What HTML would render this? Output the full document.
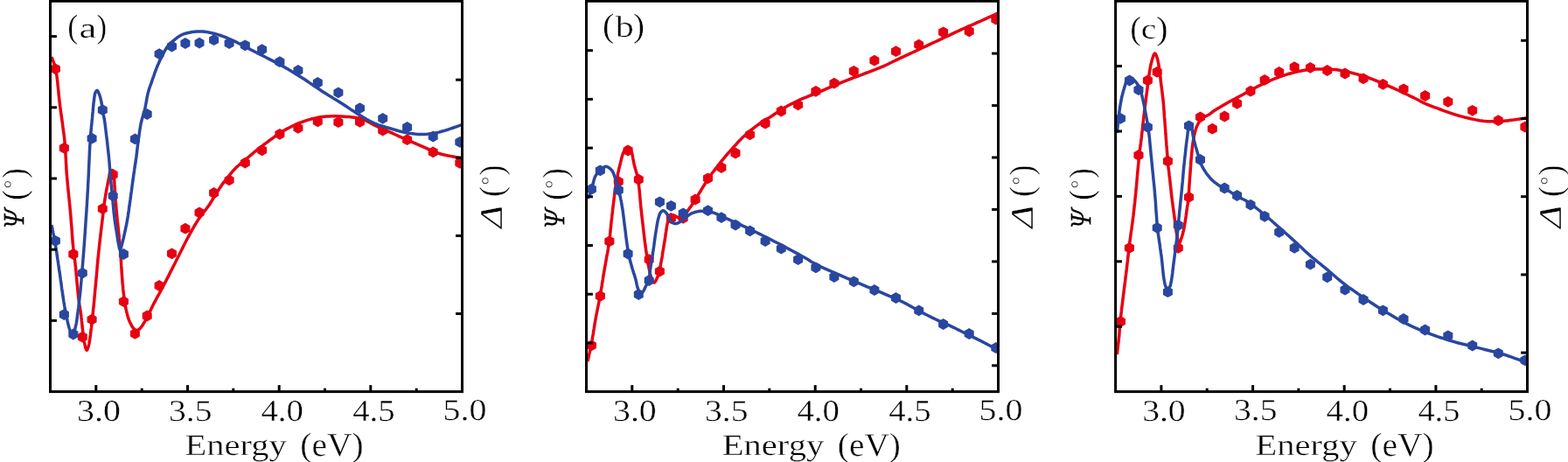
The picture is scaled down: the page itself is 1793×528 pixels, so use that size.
<!DOCTYPE html>
<html><head><meta charset="utf-8"><style>
html,body{margin:0;padding:0;background:#fff}
body{width:1793px;height:528px;overflow:hidden}
svg{display:block}

text{font-family:"Liberation Serif","DejaVu Serif",serif;fill:#000;stroke:#fff;text-rendering:geometricPrecision}

</style></head><body>
<svg width="1793" height="528" viewBox="0 0 1793 528">
<defs>
<clipPath id="ca"><rect x="57.5" y="1.3" width="471.0" height="446.3"/></clipPath>
<clipPath id="cb"><rect x="670.5" y="1.3" width="471.0" height="446.3"/></clipPath>
<clipPath id="cc"><rect x="1275.6" y="1.3" width="470.9" height="446.3"/></clipPath>
</defs>
<g clip-path="url(#ca)">
<path d="M59.0,65.0 59.6,66.7 60.2,68.3 60.8,69.9 61.4,71.5 62.0,73.2 62.5,74.9 63.1,76.9 63.6,79.0 64.4,83.1 65.1,87.7 65.7,92.7 66.2,98.1 66.8,103.6 67.3,109.2 67.9,114.7 68.5,120.0 69.2,125.2 69.9,130.5 70.7,135.8 71.4,141.1 72.1,146.4 72.8,151.6 73.5,156.8 74.0,162.0 74.4,166.8 74.8,171.5 75.0,176.2 75.3,180.9 75.5,185.6 75.8,190.3 76.0,195.1 76.4,200.0 76.9,205.6 77.4,211.4 78.0,217.2 78.6,223.2 79.2,229.1 79.8,234.9 80.3,240.6 80.8,246.0 81.2,250.5 81.5,255.0 81.9,259.4 82.2,263.7 82.5,267.9 82.8,272.0 83.1,276.1 83.5,280.0 83.8,283.2 84.2,286.2 84.5,289.1 84.9,291.9 85.2,294.8 85.6,297.7 85.9,300.8 86.3,304.0 86.8,308.5 87.2,313.4 87.7,318.5 88.1,323.7 88.6,328.9 89.1,333.8 89.5,338.4 90.0,342.4 90.3,344.7 90.6,346.8 90.9,348.7 91.2,350.6 91.5,352.4 91.8,354.2 92.1,356.0 92.4,358.0 92.7,360.2 92.9,362.4 93.2,364.7 93.4,367.0 93.7,369.3 93.9,371.5 94.1,373.8 94.4,376.0 94.6,378.1 94.9,380.2 95.1,382.3 95.4,384.4 95.6,386.4 95.9,388.4 96.2,390.3 96.6,392.0 96.9,393.3 97.2,394.7 97.5,396.0 97.8,397.4 98.2,398.5 98.5,399.4 98.9,400.1 99.2,400.3 99.5,400.1 99.8,399.6 100.1,398.9 100.5,398.0 100.8,397.0 101.1,395.9 101.4,394.9 101.6,394.0 101.8,393.2 102.0,392.3 102.1,391.5 102.3,390.6 102.4,389.7 102.5,388.9 102.7,387.9 102.8,387.0 103.0,385.8 103.1,384.7 103.3,383.4 103.5,382.2 103.6,380.9 103.8,379.6 103.9,378.3 104.1,377.0 104.3,375.6 104.5,374.2 104.6,372.8 104.8,371.3 105.0,369.8 105.2,368.2 105.4,366.5 105.6,364.5 106.1,359.9 106.6,354.3 107.3,348.0 107.9,341.4 108.5,334.6 109.1,328.1 109.7,322.0 110.2,316.7 110.5,313.6 110.7,310.9 110.9,308.3 111.1,305.8 111.3,303.3 111.6,300.8 111.8,298.0 112.1,295.0 112.6,290.1 113.2,284.6 113.8,278.7 114.5,272.7 115.2,266.6 115.9,260.7 116.6,255.1 117.2,250.0 117.6,246.5 118.0,243.2 118.4,239.9 118.8,236.8 119.2,233.8 119.5,230.8 120.0,227.9 120.4,225.0 120.8,222.4 121.3,219.9 121.7,217.4 122.2,214.9 122.7,212.5 123.1,210.2 123.6,208.0 124.0,206.0 124.3,204.7 124.5,203.4 124.8,202.1 125.1,200.9 125.3,199.8 125.6,198.8 125.9,197.8 126.2,197.0 126.4,196.6 126.6,196.1 126.8,195.7 127.0,195.3 127.2,195.0 127.4,194.7 127.6,194.6 127.8,194.5 128.0,194.5 128.3,194.7 128.5,194.9 128.7,195.3 129.0,195.6 129.2,196.1 129.4,196.5 129.6,197.0 130.0,198.4 130.3,200.2 130.5,202.4 130.6,204.8 130.8,207.3 130.9,209.9 131.0,212.5 131.2,215.0 131.4,217.9 131.7,221.0 131.9,224.1 132.1,227.2 132.3,230.4 132.6,233.7 132.8,236.8 133.1,240.0 133.4,243.1 133.7,246.3 134.0,249.5 134.3,252.7 134.7,255.8 135.0,258.9 135.3,262.0 135.6,265.0 135.9,267.6 136.1,270.1 136.3,272.5 136.6,274.9 136.8,277.3 137.0,279.8 137.3,282.3 137.5,285.0 137.8,288.5 138.0,292.2 138.3,296.0 138.5,300.0 138.7,303.9 139.0,307.7 139.2,311.5 139.5,315.0 139.7,317.8 139.9,320.6 140.1,323.2 140.4,325.9 140.6,328.4 140.8,331.0 141.1,333.5 141.4,336.0 141.7,338.3 142.0,340.5 142.3,342.8 142.6,345.0 142.9,347.1 143.3,349.3 143.7,351.3 144.1,353.4 144.5,355.2 144.9,357.0 145.4,358.8 145.8,360.5 146.3,362.2 146.8,363.9 147.4,365.5 148.0,367.0 148.6,368.3 149.2,369.6 149.9,370.9 150.5,372.2 151.2,373.3 151.9,374.4 152.6,375.3 153.3,376.0 153.7,376.3 154.0,376.6 154.4,376.9 154.8,377.1 155.2,377.3 155.5,377.4 155.9,377.5 156.3,377.5 156.7,377.5 157.2,377.3 157.7,377.2 158.1,376.9 158.6,376.6 159.1,376.3 159.5,375.9 160.0,375.5 160.8,374.7 161.5,373.8 162.3,372.7 163.1,371.6 163.8,370.3 164.6,369.0 165.4,367.7 166.2,366.3 167.3,364.3 168.4,362.2 169.6,359.9 170.7,357.5 171.9,355.1 173.1,352.7 174.2,350.3 175.4,348.0 176.5,345.8 177.7,343.6 178.9,341.4 180.1,339.2 181.2,337.1 182.4,335.0 183.5,333.0 184.5,331.0 185.3,329.5 186.0,328.1 186.7,326.8 187.4,325.5 188.1,324.2 188.8,322.9 189.6,321.4 190.4,319.8 191.8,317.1 193.3,314.1 194.9,310.9 196.6,307.6 198.3,304.2 200.1,300.8 201.8,297.3 203.5,294.0 205.2,290.5 207.0,287.0 208.8,283.4 210.6,279.8 212.4,276.3 214.2,272.8 215.9,269.6 217.6,266.5 218.8,264.3 220.0,262.2 221.2,260.2 222.3,258.2 223.5,256.3 224.6,254.4 225.8,252.5 227.1,250.6 228.5,248.6 229.9,246.6 231.4,244.6 232.9,242.6 234.4,240.7 235.9,238.8 237.2,237.0 238.5,235.2 239.4,233.9 240.2,232.7 240.9,231.5 241.7,230.4 242.4,229.2 243.1,228.0 243.9,226.8 244.7,225.5 245.8,223.8 247.0,221.9 248.2,219.9 249.5,217.8 250.7,215.9 251.9,214.0 253.1,212.2 254.1,210.7 254.7,209.9 255.3,209.1 255.8,208.4 256.3,207.8 256.8,207.2 257.4,206.5 258.0,205.8 258.6,205.0 259.6,203.7 260.7,202.3 261.9,200.9 263.1,199.3 264.3,197.8 265.7,196.2 267.0,194.7 268.4,193.2 270.0,191.6 271.7,190.0 273.5,188.5 275.3,186.9 277.1,185.4 279.0,183.8 280.8,182.3 282.6,180.8 284.4,179.3 286.1,177.8 287.9,176.3 289.7,174.8 291.4,173.3 293.2,171.9 295.0,170.4 296.8,169.0 298.6,167.6 300.4,166.3 302.2,164.9 304.0,163.6 305.8,162.3 307.5,161.0 309.3,159.7 311.0,158.5 312.5,157.4 313.9,156.4 315.3,155.3 316.6,154.3 318.0,153.3 319.5,152.3 321.0,151.3 322.7,150.3 325.1,148.9 327.8,147.4 330.6,146.0 333.5,144.5 336.5,143.1 339.5,141.7 342.6,140.4 345.5,139.3 348.3,138.3 351.1,137.4 353.9,136.6 356.8,135.8 359.6,135.2 362.5,134.6 365.3,134.0 368.2,133.6 371.0,133.3 373.9,133.0 376.7,132.9 379.5,132.8 382.4,132.7 385.2,132.8 388.1,132.9 390.9,133.0 393.8,133.2 396.7,133.4 399.7,133.6 402.6,133.9 405.5,134.3 408.3,134.7 411.0,135.3 413.6,136.0 415.6,136.7 417.5,137.5 419.4,138.4 421.1,139.3 422.9,140.3 424.7,141.3 426.5,142.3 428.4,143.2 430.6,144.2 432.8,145.2 435.1,146.3 437.4,147.3 439.7,148.3 442.1,149.3 444.4,150.4 446.7,151.4 449.0,152.4 451.3,153.5 453.6,154.5 455.9,155.6 458.2,156.6 460.5,157.6 462.8,158.7 465.1,159.7 467.4,160.7 469.7,161.7 472.0,162.7 474.2,163.7 476.5,164.7 478.8,165.6 481.1,166.6 483.4,167.6 485.7,168.6 487.9,169.6 490.1,170.6 492.3,171.6 494.6,172.6 496.9,173.6 499.3,174.5 501.8,175.3 504.9,176.2 508.1,177.0 511.4,177.7 514.8,178.4 518.2,179.0 521.7,179.7 525.1,180.3 528.5,181.0" fill="none" stroke="#e60012" stroke-width="3.5" stroke-linejoin="round" stroke-linecap="butt"/>
<g fill="#e60012">
<polygon points="63.3,72.4 57.8,75.6 57.8,82.0 63.3,85.2 68.9,82.0 68.9,75.6"/>
<polygon points="73.4,162.8 67.8,166.0 67.8,172.4 73.4,175.6 78.9,172.4 78.9,166.0"/>
<polygon points="83.8,284.1 78.3,287.3 78.3,293.7 83.8,296.9 89.4,293.7 89.4,287.3"/>
<polygon points="94.3,378.8 88.8,382.0 88.8,388.4 94.3,391.6 99.8,388.4 99.8,382.0"/>
<polygon points="105.1,358.7 99.6,361.9 99.6,368.3 105.1,371.5 110.6,368.3 110.6,361.9"/>
<polygon points="117.3,232.2 111.8,235.4 111.8,241.8 117.3,245.0 122.8,241.8 122.8,235.4"/>
<polygon points="129.2,193.1 123.7,196.3 123.7,202.7 129.2,205.9 134.7,202.7 134.7,196.3"/>
<polygon points="141.4,338.2 135.9,341.4 135.9,347.8 141.4,351.0 146.9,347.8 146.9,341.4"/>
<polygon points="154.4,375.0 148.9,378.2 148.9,384.6 154.4,387.8 159.9,384.6 159.9,378.2"/>
<polygon points="168.2,354.6 162.7,357.8 162.7,364.2 168.2,367.4 173.7,364.2 173.7,357.8"/>
<polygon points="182.1,320.1 176.6,323.3 176.6,329.7 182.1,332.9 187.6,329.7 187.6,323.3"/>
<polygon points="196.5,283.4 191.0,286.6 191.0,293.0 196.5,296.2 202.0,293.0 202.0,286.6"/>
<polygon points="211.9,254.8 206.4,258.0 206.4,264.4 211.9,267.6 217.4,264.4 217.4,258.0"/>
<polygon points="228.0,236.6 222.5,239.8 222.5,246.2 228.0,249.4 233.5,246.2 233.5,239.8"/>
<polygon points="244.6,214.1 239.1,217.3 239.1,223.7 244.6,226.9 250.1,223.7 250.1,217.3"/>
<polygon points="262.1,199.5 256.6,202.7 256.6,209.1 262.1,212.3 267.6,209.1 267.6,202.7"/>
<polygon points="280.3,179.7 274.8,182.9 274.8,189.3 280.3,192.5 285.8,189.3 285.8,182.9"/>
<polygon points="299.6,165.4 294.1,168.6 294.1,175.0 299.6,178.2 305.1,175.0 305.1,168.6"/>
<polygon points="319.9,146.9 314.4,150.1 314.4,156.5 319.9,159.7 325.4,156.5 325.4,150.1"/>
<polygon points="340.9,140.0 335.4,143.2 335.4,149.6 340.9,152.8 346.4,149.6 346.4,143.2"/>
<polygon points="363.3,132.5 357.8,135.7 357.8,142.1 363.3,145.3 368.8,142.1 368.8,135.7"/>
<polygon points="386.9,133.3 381.4,136.5 381.4,142.9 386.9,146.1 392.4,142.9 392.4,136.5"/>
<polygon points="411.5,132.9 406.0,136.1 406.0,142.5 411.5,145.7 417.0,142.5 417.0,136.1"/>
<polygon points="437.7,142.7 432.2,145.9 432.2,152.3 437.7,155.5 443.2,152.3 443.2,145.9"/>
<polygon points="465.6,153.3 460.1,156.5 460.1,162.9 465.6,166.1 471.1,162.9 471.1,156.5"/>
<polygon points="495.2,167.4 489.7,170.6 489.7,177.0 495.2,180.2 500.7,177.0 500.7,170.6"/>
<polygon points="525.8,179.9 520.3,183.1 520.3,189.5 525.8,192.7 531.3,189.5 531.3,183.1"/>
</g>
<path d="M59.0,257.0 59.2,258.1 59.4,259.2 59.7,260.3 59.9,261.4 60.1,262.5 60.3,263.6 60.6,264.8 60.8,266.0 61.1,267.5 61.4,269.0 61.7,270.6 62.0,272.2 62.4,273.9 62.7,275.5 63.0,277.3 63.3,279.0 63.6,281.1 64.0,283.3 64.3,285.5 64.7,287.8 65.0,290.1 65.3,292.4 65.7,294.7 66.0,297.0 66.4,299.4 66.7,301.8 67.1,304.2 67.4,306.6 67.8,309.1 68.2,311.6 68.5,314.1 68.9,316.7 69.3,319.7 69.8,322.9 70.2,326.1 70.6,329.3 71.1,332.6 71.6,335.8 72.0,338.9 72.5,342.0 72.9,344.7 73.4,347.4 73.8,350.1 74.3,352.7 74.8,355.3 75.2,357.8 75.7,360.3 76.2,362.6 76.6,364.4 77.0,366.3 77.4,368.0 77.7,369.7 78.2,371.4 78.6,373.0 79.0,374.5 79.5,376.0 79.9,377.2 80.3,378.4 80.8,379.7 81.2,380.9 81.7,381.9 82.1,382.8 82.6,383.3 83.0,383.5 83.5,383.2 83.9,382.4 84.4,381.2 84.9,379.7 85.3,378.0 85.7,376.3 86.1,374.6 86.5,373.0 86.9,371.2 87.3,369.3 87.6,367.4 87.9,365.4 88.2,363.3 88.4,361.2 88.7,359.1 89.0,357.0 89.3,354.5 89.7,352.0 90.0,349.4 90.3,346.7 90.6,344.1 90.9,341.4 91.2,338.7 91.5,336.0 91.8,333.2 92.1,330.3 92.3,327.5 92.6,324.6 92.9,321.7 93.1,318.8 93.4,315.9 93.6,313.0 93.8,310.1 94.1,307.3 94.3,304.5 94.6,301.6 94.8,298.8 95.0,295.9 95.3,293.0 95.5,290.0 95.8,286.6 96.0,283.2 96.3,279.8 96.5,276.3 96.8,272.8 97.0,269.2 97.3,265.6 97.5,262.0 97.8,258.1 98.0,254.1 98.3,250.0 98.6,245.9 98.9,241.8 99.1,237.8 99.4,233.8 99.6,230.0 99.8,226.8 100.0,223.7 100.1,220.8 100.3,217.8 100.5,214.8 100.6,211.7 100.8,208.5 101.0,205.0 101.3,199.6 101.5,193.7 101.8,187.3 102.1,180.8 102.4,174.3 102.7,168.1 103.1,162.2 103.4,157.0 103.6,153.8 103.9,150.9 104.2,148.1 104.4,145.4 104.7,142.8 105.0,140.2 105.2,137.6 105.5,135.0 105.7,132.5 105.9,130.0 106.2,127.5 106.4,125.0 106.6,122.6 106.8,120.3 107.0,118.1 107.3,116.0 107.5,114.5 107.7,113.1 107.8,111.7 108.0,110.4 108.2,109.1 108.4,107.9 108.7,106.9 109.0,106.0 109.2,105.5 109.4,105.1 109.7,104.6 109.9,104.2 110.2,103.9 110.4,103.6 110.7,103.5 110.9,103.4 111.2,103.5 111.4,103.7 111.7,104.0 112.0,104.4 112.2,104.9 112.5,105.4 112.8,106.0 113.0,106.5 113.4,107.4 113.8,108.4 114.1,109.5 114.5,110.7 114.8,111.9 115.1,113.1 115.4,114.4 115.7,115.6 116.0,117.0 116.2,118.4 116.5,119.8 116.7,121.3 116.9,122.7 117.1,124.2 117.3,125.6 117.5,127.0 117.7,128.2 118.0,129.4 118.2,130.5 118.4,131.6 118.7,132.8 118.9,134.0 119.1,135.4 119.4,137.0 120.0,140.9 120.6,145.6 121.2,150.9 121.9,156.5 122.6,162.3 123.2,168.0 123.8,173.3 124.3,178.0 124.6,181.1 124.9,183.9 125.1,186.7 125.3,189.3 125.5,191.9 125.7,194.6 126.0,197.2 126.2,200.0 126.5,203.0 126.8,206.1 127.0,209.3 127.3,212.4 127.6,215.6 127.9,218.7 128.2,221.9 128.5,225.0 128.8,228.2 129.1,231.4 129.4,234.6 129.7,237.8 130.0,241.0 130.3,244.1 130.7,247.1 131.0,250.0 131.3,252.3 131.6,254.6 132.0,256.7 132.3,258.9 132.6,261.0 133.0,263.0 133.3,265.0 133.6,267.0 133.9,268.6 134.1,270.2 134.3,271.8 134.6,273.4 134.8,274.9 135.1,276.3 135.3,277.7 135.6,279.0 135.8,280.0 136.0,281.1 136.2,282.2 136.4,283.2 136.6,284.1 136.8,284.8 137.1,285.3 137.3,285.5 137.5,285.4 137.7,285.0 138.0,284.4 138.2,283.6 138.5,282.7 138.7,281.8 139.0,280.9 139.2,280.0 139.6,278.7 140.0,277.2 140.4,275.6 140.8,274.0 141.2,272.3 141.6,270.5 142.0,268.8 142.4,267.0 142.8,265.0 143.3,263.0 143.7,260.9 144.1,258.9 144.6,256.7 145.0,254.5 145.4,252.3 145.8,250.0 146.3,247.1 146.7,244.1 147.2,241.0 147.6,237.8 148.1,234.6 148.5,231.4 149.0,228.2 149.4,225.0 149.8,221.9 150.3,218.7 150.7,215.5 151.1,212.3 151.5,209.2 152.0,206.1 152.4,203.0 152.8,200.0 153.2,197.4 153.6,194.8 153.9,192.3 154.3,189.9 154.7,187.4 155.1,184.9 155.4,182.5 155.8,180.0 156.1,177.5 156.4,175.0 156.7,172.5 157.0,170.0 157.3,167.5 157.6,165.0 158.0,162.5 158.3,160.0 158.6,157.5 159.0,154.9 159.3,152.4 159.7,149.8 160.1,147.3 160.5,144.8 160.9,142.4 161.4,140.0 161.9,138.0 162.4,136.1 162.9,134.3 163.5,132.5 164.0,130.7 164.6,128.8 165.1,127.0 165.6,125.0 166.1,122.7 166.6,120.2 167.0,117.7 167.5,115.2 167.9,112.7 168.4,110.2 168.9,107.8 169.4,105.6 169.9,103.9 170.4,102.2 170.9,100.6 171.5,99.0 172.0,97.5 172.6,95.9 173.2,94.4 173.7,92.8 174.2,91.2 174.8,89.7 175.3,88.1 175.9,86.5 176.4,84.9 176.9,83.4 177.5,81.9 178.0,80.5 178.4,79.4 178.9,78.2 179.3,77.2 179.7,76.1 180.2,75.1 180.6,74.0 181.1,73.0 181.5,72.0 181.9,71.1 182.3,70.2 182.7,69.3 183.1,68.5 183.6,67.6 184.0,66.7 184.5,65.8 185.0,64.8 185.7,63.4 186.5,61.9 187.3,60.3 188.1,58.7 189.0,57.1 189.9,55.6 190.8,54.1 191.8,52.8 192.7,51.7 193.6,50.7 194.5,49.8 195.5,48.9 196.4,48.0 197.4,47.2 198.5,46.3 199.5,45.5 200.6,44.7 201.6,43.8 202.7,43.0 203.8,42.2 204.9,41.4 206.1,40.7 207.4,40.0 208.8,39.4 210.8,38.7 212.9,38.0 215.2,37.5 217.6,37.0 220.1,36.6 222.5,36.3 224.9,36.1 227.3,36.0 229.6,36.0 231.9,36.1 234.2,36.3 236.4,36.6 238.7,37.0 241.0,37.5 243.2,38.0 245.5,38.5 247.8,39.1 250.0,39.8 252.3,40.5 254.5,41.3 256.7,42.1 259.0,43.0 261.3,44.0 263.6,45.0 266.4,46.3 269.3,47.7 272.3,49.2 275.2,50.7 278.2,52.3 281.1,53.8 283.8,55.3 286.4,56.6 288.2,57.5 290.0,58.4 291.6,59.2 293.2,60.0 294.8,60.9 296.4,61.7 298.2,62.6 300.0,63.5 302.6,64.8 305.3,66.2 308.1,67.6 311.0,69.1 314.0,70.6 316.9,72.2 319.8,73.7 322.7,75.3 325.6,76.9 328.4,78.6 331.3,80.3 334.1,82.0 337.0,83.7 339.8,85.4 342.7,87.2 345.5,89.0 348.4,90.8 351.2,92.7 354.0,94.6 356.9,96.6 359.7,98.5 362.5,100.4 365.4,102.3 368.2,104.2 371.0,106.0 373.9,107.8 376.7,109.6 379.6,111.3 382.4,113.1 385.3,114.8 388.1,116.5 390.9,118.3 393.6,120.0 396.3,121.8 399.0,123.6 401.6,125.4 404.3,127.1 406.9,128.8 409.5,130.5 412.0,132.0 414.1,133.3 416.2,134.5 418.2,135.7 420.2,136.9 422.2,138.0 424.2,139.0 426.3,140.0 428.4,141.0 430.6,141.9 432.9,142.8 435.2,143.5 437.6,144.3 440.0,145.0 442.3,145.7 444.7,146.3 447.0,147.0 449.3,147.7 451.5,148.3 453.7,149.0 456.0,149.7 458.2,150.3 460.5,150.8 462.7,151.4 465.0,151.8 467.3,152.2 469.6,152.5 471.9,152.8 474.2,153.1 476.5,153.3 478.8,153.4 481.1,153.5 483.4,153.5 485.7,153.4 487.9,153.3 490.2,153.1 492.4,152.8 494.7,152.5 497.0,152.1 499.4,151.6 501.8,151.1 504.9,150.3 508.2,149.4 511.5,148.3 514.9,147.2 518.3,146.0 521.7,144.8 525.1,143.6 528.5,142.5" fill="none" stroke="#2a479f" stroke-width="3.5" stroke-linejoin="round" stroke-linecap="butt"/>
<g fill="#2a479f">
<polygon points="63.3,268.9 57.8,272.1 57.8,278.5 63.3,281.7 68.9,278.5 68.9,272.1"/>
<polygon points="73.4,353.1 67.8,356.3 67.8,362.7 73.4,365.9 78.9,362.7 78.9,356.3"/>
<polygon points="83.8,375.6 78.3,378.8 78.3,385.2 83.8,388.4 89.4,385.2 89.4,378.8"/>
<polygon points="94.3,305.7 88.8,308.9 88.8,315.3 94.3,318.5 99.8,315.3 99.8,308.9"/>
<polygon points="105.1,151.8 99.6,155.0 99.6,161.4 105.1,164.6 110.6,161.4 110.6,155.0"/>
<polygon points="117.3,119.3 111.8,122.5 111.8,128.9 117.3,132.1 122.8,128.9 122.8,122.5"/>
<polygon points="129.2,217.5 123.7,220.7 123.7,227.1 129.2,230.3 134.7,227.1 134.7,220.7"/>
<polygon points="141.4,284.1 135.9,287.3 135.9,293.7 141.4,296.9 146.9,293.7 146.9,287.3"/>
<polygon points="154.4,152.5 148.9,155.7 148.9,162.1 154.4,165.3 159.9,162.1 159.9,155.7"/>
<polygon points="168.2,124.1 162.7,127.3 162.7,133.7 168.2,136.9 173.7,133.7 173.7,127.3"/>
<polygon points="182.1,55.2 176.6,58.4 176.6,64.8 182.1,68.0 187.6,64.8 187.6,58.4"/>
<polygon points="196.5,46.6 191.0,49.8 191.0,56.2 196.5,59.4 202.0,56.2 202.0,49.8"/>
<polygon points="211.9,43.1 206.4,46.3 206.4,52.7 211.9,55.9 217.4,52.7 217.4,46.3"/>
<polygon points="228.0,42.7 222.5,45.9 222.5,52.3 228.0,55.5 233.5,52.3 233.5,45.9"/>
<polygon points="244.6,39.3 239.1,42.5 239.1,48.9 244.6,52.1 250.1,48.9 250.1,42.5"/>
<polygon points="262.1,43.1 256.6,46.3 256.6,52.7 262.1,55.9 267.6,52.7 267.6,46.3"/>
<polygon points="280.3,45.4 274.8,48.6 274.8,55.0 280.3,58.2 285.8,55.0 285.8,48.6"/>
<polygon points="299.6,50.2 294.1,53.4 294.1,59.8 299.6,63.0 305.1,59.8 305.1,53.4"/>
<polygon points="319.9,64.3 314.4,67.5 314.4,73.9 319.9,77.1 325.4,73.9 325.4,67.5"/>
<polygon points="340.9,74.1 335.4,77.3 335.4,83.7 340.9,86.9 346.4,83.7 346.4,77.3"/>
<polygon points="363.3,88.1 357.8,91.3 357.8,97.7 363.3,100.9 368.8,97.7 368.8,91.3"/>
<polygon points="386.9,99.5 381.4,102.7 381.4,109.1 386.9,112.3 392.4,109.1 392.4,102.7"/>
<polygon points="411.5,117.2 406.0,120.4 406.0,126.8 411.5,130.0 417.0,126.8 417.0,120.4"/>
<polygon points="437.7,129.0 432.2,132.2 432.2,138.6 437.7,141.8 443.2,138.6 443.2,132.2"/>
<polygon points="465.6,139.1 460.1,142.3 460.1,148.7 465.6,151.9 471.1,148.7 471.1,142.3"/>
<polygon points="495.2,149.6 489.7,152.8 489.7,159.2 495.2,162.4 500.7,159.2 500.7,152.8"/>
<polygon points="525.8,156.0 520.3,159.2 520.3,165.6 525.8,168.8 531.3,165.6 531.3,159.2"/>
</g>
</g>
<g stroke="#000" stroke-width="3.0" fill="none">
<rect x="57.5" y="1.3" width="471.0" height="446.3"/>
<line x1="109.8" y1="447.6" x2="109.8" y2="440.1"/>
<line x1="162.2" y1="447.6" x2="162.2" y2="443.7"/>
<line x1="214.5" y1="447.6" x2="214.5" y2="440.1"/>
<line x1="266.8" y1="447.6" x2="266.8" y2="443.7"/>
<line x1="319.2" y1="447.6" x2="319.2" y2="440.1"/>
<line x1="371.5" y1="447.6" x2="371.5" y2="443.7"/>
<line x1="423.8" y1="447.6" x2="423.8" y2="440.1"/>
<line x1="476.2" y1="447.6" x2="476.2" y2="443.7"/>
<line x1="57.5" y1="366.4" x2="64.9" y2="366.4"/>
<line x1="57.5" y1="285.2" x2="64.9" y2="285.2"/>
<line x1="57.5" y1="204.0" x2="64.9" y2="204.0"/>
<line x1="57.5" y1="122.8" x2="64.9" y2="122.8"/>
<line x1="57.5" y1="41.6" x2="64.9" y2="41.6"/>
<line x1="528.5" y1="358.5" x2="521.1" y2="358.5"/>
<line x1="528.5" y1="269.4" x2="521.1" y2="269.4"/>
<line x1="528.5" y1="180.3" x2="521.1" y2="180.3"/>
<line x1="528.5" y1="91.2" x2="521.1" y2="91.2"/>
</g>
<g clip-path="url(#cb)">
<path d="M672.0,413.0 672.6,410.4 673.1,407.8 673.7,405.2 674.3,402.7 674.8,400.1 675.4,397.4 676.0,394.8 676.5,392.0 677.1,388.8 677.6,385.5 678.2,382.1 678.7,378.7 679.3,375.3 679.8,371.9 680.4,368.4 681.0,365.0 681.6,361.5 682.3,358.0 683.0,354.5 683.7,351.0 684.4,347.5 685.1,344.0 685.8,340.5 686.4,337.0 687.0,333.5 687.6,330.0 688.2,326.6 688.7,323.1 689.3,319.6 689.8,316.1 690.4,312.6 691.0,309.0 691.7,305.1 692.4,301.2 693.1,297.2 693.8,293.1 694.6,289.1 695.3,285.1 695.9,281.0 696.5,277.0 697.0,273.0 697.5,269.0 697.9,265.0 698.3,261.0 698.7,257.0 699.1,253.0 699.6,249.0 700.0,245.0 700.5,241.1 700.9,237.0 701.4,233.0 701.9,228.9 702.4,225.0 702.8,221.2 703.3,217.6 703.8,214.3 704.1,212.1 704.5,210.1 704.8,208.1 705.1,206.2 705.5,204.4 705.8,202.6 706.1,200.8 706.5,199.0 706.8,197.4 707.2,195.9 707.5,194.4 707.8,192.9 708.2,191.5 708.5,190.0 708.9,188.5 709.3,187.0 709.7,185.4 710.1,183.6 710.5,181.9 710.9,180.2 711.4,178.5 711.9,176.9 712.4,175.4 713.0,174.0 713.5,173.0 714.0,172.0 714.6,171.0 715.2,170.1 715.8,169.3 716.4,168.6 717.0,168.2 717.6,168.0 718.1,168.1 718.6,168.3 719.1,168.7 719.6,169.2 720.1,169.9 720.6,170.5 721.1,171.3 721.5,172.0 722.1,173.3 722.6,174.9 723.0,176.7 723.4,178.6 723.7,180.6 724.1,182.7 724.5,184.7 724.9,186.7 725.4,188.9 726.0,191.0 726.6,193.2 727.2,195.4 727.9,197.7 728.4,200.0 729.0,202.5 729.5,205.1 730.1,208.9 730.6,212.9 731.1,217.1 731.5,221.5 731.9,226.1 732.3,230.7 732.7,235.3 733.2,240.0 733.8,245.6 734.5,251.5 735.2,257.6 735.9,263.7 736.6,269.8 737.3,275.6 738.0,281.0 738.7,285.9 739.1,288.8 739.5,291.6 739.9,294.2 740.3,296.7 740.7,299.2 741.1,301.5 741.5,303.8 742.0,306.0 742.4,307.8 742.8,309.6 743.1,311.4 743.5,313.2 743.9,314.8 744.4,316.4 744.8,317.8 745.3,319.0 745.6,319.7 745.9,320.4 746.3,321.1 746.6,321.7 747.0,322.2 747.3,322.6 747.7,322.9 748.0,323.0 748.3,322.9 748.7,322.6 749.1,322.2 749.4,321.7 749.8,321.0 750.1,320.4 750.5,319.7 750.8,319.0 751.3,317.9 751.7,316.8 752.2,315.6 752.6,314.2 753.0,312.8 753.5,311.3 753.9,309.7 754.3,308.0 755.0,304.8 755.7,301.2 756.4,297.2 757.2,293.1 757.8,288.8 758.5,284.6 759.2,280.5 759.8,276.7 760.3,273.6 760.8,270.5 761.2,267.3 761.7,264.3 762.1,261.4 762.5,258.7 763.0,256.2 763.5,254.0 763.8,252.9 764.0,251.8 764.3,250.8 764.5,249.8 764.8,249.0 765.1,248.2 765.5,247.5 766.0,247.0 766.4,246.7 766.9,246.4 767.4,246.2 767.9,246.1 768.4,246.0 768.9,246.0 769.5,246.0 770.0,246.0 770.6,246.1 771.2,246.4 771.9,246.7 772.5,247.0 773.1,247.4 773.8,247.8 774.4,248.2 775.0,248.5 775.5,248.8 776.0,249.1 776.6,249.4 777.1,249.6 777.6,249.9 778.0,250.1 778.5,250.2 779.0,250.3 779.4,250.3 779.8,250.2 780.2,250.1 780.6,250.0 780.9,249.8 781.3,249.6 781.6,249.3 782.0,249.0 782.5,248.4 783.0,247.6 783.5,246.7 784.0,245.7 784.4,244.6 784.9,243.5 785.4,242.5 786.0,241.5 786.7,240.5 787.4,239.4 788.1,238.4 788.9,237.3 789.7,236.3 790.5,235.2 791.2,234.1 792.0,233.0 792.8,231.8 793.6,230.6 794.3,229.3 795.1,228.1 795.9,226.8 796.7,225.5 797.5,224.1 798.4,222.7 799.6,220.7 801.0,218.5 802.4,216.2 803.8,213.8 805.3,211.5 806.7,209.2 808.1,207.0 809.4,205.0 810.3,203.6 811.2,202.3 812.0,201.1 812.9,199.9 813.7,198.8 814.6,197.5 815.6,196.2 816.7,194.8 818.6,192.4 820.7,189.7 822.9,186.9 825.3,183.9 827.8,180.9 830.2,177.9 832.7,175.0 835.1,172.3 837.3,169.8 839.6,167.3 841.8,164.8 844.1,162.3 846.4,160.0 848.7,157.6 851.0,155.4 853.4,153.2 855.7,151.2 858.1,149.2 860.5,147.3 863.0,145.4 865.3,143.6 867.7,142.0 869.8,140.5 871.8,139.1 872.9,138.3 874.0,137.7 874.9,137.1 875.9,136.6 876.8,136.1 877.8,135.5 878.8,134.9 880.0,134.2 882.0,133.0 884.1,131.5 886.3,130.0 888.7,128.4 891.1,126.8 893.6,125.2 896.0,123.7 898.4,122.3 900.7,121.0 902.9,119.8 905.2,118.6 907.5,117.5 909.8,116.4 912.1,115.3 914.4,114.2 916.7,113.2 919.0,112.2 921.3,111.3 923.6,110.3 925.9,109.4 928.2,108.5 930.5,107.7 932.8,106.7 935.1,105.8 937.4,104.8 939.7,103.8 942.0,102.8 944.2,101.8 946.5,100.8 948.8,99.8 951.1,98.8 953.4,97.8 955.7,96.9 958.0,95.9 960.3,95.0 962.6,94.1 964.9,93.2 967.2,92.3 969.5,91.4 971.8,90.5 974.1,89.6 976.4,88.7 978.7,87.9 981.0,87.0 983.3,86.1 985.6,85.3 987.9,84.4 990.2,83.5 992.7,82.6 995.3,81.6 997.9,80.6 1000.5,79.6 1003.0,78.6 1005.5,77.7 1007.8,76.7 1010.0,75.8 1011.4,75.2 1012.8,74.5 1014.0,74.0 1015.2,73.4 1016.4,72.8 1017.6,72.1 1019.0,71.5 1020.4,70.8 1022.6,69.7 1025.0,68.6 1027.6,67.4 1030.2,66.2 1032.9,64.9 1035.6,63.7 1038.3,62.4 1040.9,61.2 1043.5,60.0 1046.0,58.8 1048.6,57.6 1051.1,56.4 1053.6,55.2 1056.2,54.0 1058.7,52.8 1061.3,51.6 1063.9,50.4 1066.4,49.2 1069.0,48.0 1071.5,46.8 1074.1,45.6 1076.7,44.4 1079.2,43.2 1081.8,42.0 1084.4,40.8 1086.9,39.6 1089.4,38.4 1092.0,37.2 1094.5,36.0 1097.1,34.8 1099.6,33.7 1102.2,32.5 1104.8,31.4 1107.3,30.2 1109.9,29.1 1112.5,28.0 1115.1,26.9 1117.6,25.7 1120.2,24.6 1122.7,23.5 1125.1,22.4 1127.5,21.3 1129.8,20.2 1132.2,19.2 1134.5,18.1 1136.8,17.0 1139.2,15.9 1141.5,14.8" fill="none" stroke="#e60012" stroke-width="3.5" stroke-linejoin="round" stroke-linecap="butt"/>
<g fill="#e60012">
<polygon points="676.3,388.4 670.8,391.6 670.8,398.0 676.3,401.2 681.9,398.0 681.9,391.6"/>
<polygon points="686.4,332.0 680.8,335.2 680.8,341.6 686.4,344.8 691.9,341.6 691.9,335.2"/>
<polygon points="696.8,269.4 691.3,272.6 691.3,279.0 696.8,282.2 702.4,279.0 702.4,272.6"/>
<polygon points="707.3,201.2 701.8,204.4 701.8,210.8 707.3,214.0 712.8,210.8 712.8,204.4"/>
<polygon points="718.1,165.6 712.6,168.8 712.6,175.2 718.1,178.4 723.6,175.2 723.6,168.8"/>
<polygon points="730.3,198.7 724.8,201.9 724.8,208.3 730.3,211.5 735.8,208.3 735.8,201.9"/>
<polygon points="742.2,290.2 736.7,293.4 736.7,299.8 742.2,303.0 747.7,299.8 747.7,293.4"/>
<polygon points="754.4,303.7 748.9,306.9 748.9,313.3 754.4,316.5 759.9,313.3 759.9,306.9"/>
<polygon points="767.4,243.1 761.9,246.3 761.9,252.7 767.4,255.9 772.9,252.7 772.9,246.3"/>
<polygon points="781.2,242.9 775.7,246.1 775.7,252.5 781.2,255.7 786.7,252.5 786.7,246.1"/>
<polygon points="795.1,221.6 789.6,224.8 789.6,231.2 795.1,234.4 800.6,231.2 800.6,224.8"/>
<polygon points="809.5,197.4 804.0,200.6 804.0,207.0 809.5,210.2 815.0,207.0 815.0,200.6"/>
<polygon points="824.9,185.1 819.4,188.3 819.4,194.7 824.9,197.9 830.4,194.7 830.4,188.3"/>
<polygon points="841.0,168.6 835.5,171.8 835.5,178.2 841.0,181.4 846.5,178.2 846.5,171.8"/>
<polygon points="857.6,147.5 852.1,150.7 852.1,157.1 857.6,160.3 863.1,157.1 863.1,150.7"/>
<polygon points="875.1,134.6 869.6,137.8 869.6,144.2 875.1,147.4 880.6,144.2 880.6,137.8"/>
<polygon points="893.3,120.6 887.8,123.8 887.8,130.2 893.3,133.4 898.8,130.2 898.8,123.8"/>
<polygon points="912.6,113.5 907.1,116.7 907.1,123.1 912.6,126.3 918.1,123.1 918.1,116.7"/>
<polygon points="932.9,97.9 927.4,101.1 927.4,107.5 932.9,110.7 938.4,107.5 938.4,101.1"/>
<polygon points="953.9,88.7 948.4,91.9 948.4,98.3 953.9,101.5 959.4,98.3 959.4,91.9"/>
<polygon points="976.3,74.9 970.8,78.1 970.8,84.5 976.3,87.7 981.8,84.5 981.8,78.1"/>
<polygon points="999.9,62.8 994.4,66.0 994.4,72.4 999.9,75.6 1005.4,72.4 1005.4,66.0"/>
<polygon points="1024.5,52.3 1019.0,55.5 1019.0,61.9 1024.5,65.1 1030.0,61.9 1030.0,55.5"/>
<polygon points="1050.7,44.7 1045.2,47.9 1045.2,54.3 1050.7,57.5 1056.2,54.3 1056.2,47.9"/>
<polygon points="1078.6,30.4 1073.1,33.6 1073.1,40.0 1078.6,43.2 1084.1,40.0 1084.1,33.6"/>
<polygon points="1108.2,29.4 1102.7,32.6 1102.7,39.0 1108.2,42.2 1113.7,39.0 1113.7,32.6"/>
<polygon points="1138.8,15.6 1133.3,18.8 1133.3,25.2 1138.8,28.4 1144.3,25.2 1144.3,18.8"/>
</g>
<path d="M672.0,227.0 672.5,225.9 673.0,224.8 673.5,223.8 674.0,222.7 674.5,221.6 675.0,220.5 675.5,219.3 676.0,218.0 676.6,216.1 677.2,214.0 677.7,211.8 678.2,209.5 678.8,207.2 679.4,205.1 680.0,203.1 680.8,201.4 681.4,200.4 682.0,199.5 682.7,198.6 683.4,197.8 684.1,197.1 684.9,196.4 685.6,195.7 686.4,195.0 687.1,194.3 687.9,193.5 688.7,192.7 689.5,192.0 690.3,191.3 691.1,190.8 691.9,190.5 692.7,190.3 693.6,190.4 694.4,190.7 695.4,191.1 696.3,191.7 697.2,192.4 698.0,193.1 698.8,193.8 699.5,194.6 700.1,195.4 700.6,196.2 701.1,197.2 701.5,198.1 701.9,199.1 702.2,200.2 702.6,201.2 703.0,202.3 703.5,203.7 704.0,205.1 704.4,206.6 704.9,208.1 705.3,209.7 705.8,211.2 706.2,212.8 706.6,214.3 707.0,215.8 707.4,217.2 707.8,218.6 708.1,220.1 708.5,221.5 708.8,223.0 709.2,224.5 709.5,226.0 709.8,227.6 710.2,229.2 710.5,230.8 710.7,232.4 711.0,234.1 711.3,235.9 711.7,237.8 712.0,240.0 712.7,244.9 713.4,250.7 714.2,257.3 715.1,264.1 715.9,271.1 716.8,277.7 717.7,283.7 718.5,288.7 719.0,291.2 719.5,293.4 720.0,295.5 720.5,297.5 720.9,299.4 721.5,301.2 722.0,303.1 722.5,305.0 723.0,306.8 723.6,308.6 724.1,310.4 724.7,312.2 725.3,313.9 725.8,315.6 726.3,317.3 726.8,319.0 727.2,320.5 727.5,321.9 727.8,323.4 728.1,324.8 728.4,326.2 728.8,327.6 729.1,328.8 729.5,330.0 729.8,330.9 730.1,331.8 730.4,332.6 730.8,333.5 731.1,334.2 731.5,334.8 731.9,335.3 732.3,335.5 732.7,335.5 733.1,335.4 733.5,335.1 733.9,334.7 734.3,334.3 734.7,333.9 735.1,333.4 735.5,333.0 735.9,332.5 736.2,331.9 736.5,331.3 736.8,330.7 737.1,330.0 737.4,329.4 737.7,328.7 738.0,328.0 738.4,327.2 738.8,326.4 739.3,325.5 739.8,324.7 740.2,323.8 740.6,322.9 741.0,321.9 741.4,320.8 741.8,319.1 742.2,317.3 742.6,315.4 742.9,313.4 743.1,311.3 743.4,309.2 743.7,307.1 744.0,305.0 744.4,302.7 744.7,300.4 745.1,298.0 745.5,295.7 745.9,293.3 746.3,290.9 746.6,288.4 747.0,286.0 747.4,283.4 747.8,280.7 748.1,278.0 748.5,275.3 748.9,272.6 749.2,270.0 749.6,267.4 750.0,265.0 750.3,263.1 750.6,261.2 750.9,259.4 751.2,257.6 751.5,255.8 751.8,254.1 752.1,252.5 752.5,251.0 752.8,249.8 753.1,248.7 753.4,247.6 753.7,246.5 754.1,245.5 754.4,244.5 754.8,243.7 755.3,243.0 755.6,242.6 756.0,242.2 756.4,241.8 756.7,241.5 757.1,241.2 757.5,241.0 757.9,240.9 758.3,240.8 758.6,240.8 759.0,240.9 759.3,241.1 759.7,241.3 760.0,241.6 760.4,241.9 760.7,242.2 761.0,242.5 761.3,242.8 761.7,243.2 762.0,243.6 762.3,244.1 762.6,244.5 762.9,245.0 763.2,245.5 763.5,246.0 764.0,246.8 764.4,247.7 764.9,248.6 765.3,249.6 765.8,250.6 766.4,251.5 766.9,252.3 767.5,253.0 768.0,253.5 768.5,253.9 769.1,254.4 769.6,254.7 770.2,255.1 770.8,255.3 771.4,255.5 772.0,255.6 772.7,255.6 773.4,255.5 774.1,255.3 774.8,255.0 775.6,254.6 776.3,254.3 777.0,253.9 777.7,253.5 778.4,253.1 779.2,252.6 779.9,252.1 780.6,251.5 781.3,251.0 782.0,250.4 782.7,249.9 783.4,249.3 784.1,248.7 784.8,248.1 785.5,247.5 786.2,246.9 786.9,246.4 787.6,245.8 788.4,245.3 789.1,244.8 789.8,244.4 790.6,244.0 791.3,243.7 792.1,243.4 792.9,243.1 793.7,242.8 794.5,242.5 795.3,242.3 796.2,242.1 797.0,241.9 797.9,241.7 798.8,241.5 799.7,241.4 800.6,241.3 801.5,241.2 802.4,241.2 803.3,241.2 804.2,241.2 805.1,241.3 806.0,241.3 806.9,241.4 807.8,241.5 808.7,241.7 809.6,241.8 810.5,241.9 811.3,242.1 812.1,242.2 813.0,242.4 813.8,242.6 814.7,242.8 815.7,243.1 816.7,243.4 818.6,244.1 820.7,245.0 823.0,246.0 825.3,247.1 827.8,248.2 830.2,249.4 832.7,250.5 835.0,251.6 837.3,252.6 839.6,253.7 841.9,254.7 844.2,255.7 846.5,256.7 848.8,257.8 851.1,258.8 853.4,259.9 855.7,261.0 858.0,262.1 860.3,263.3 862.6,264.4 864.9,265.5 867.2,266.7 869.5,267.8 871.8,269.0 874.1,270.2 876.5,271.4 879.0,272.6 881.4,273.8 883.7,275.0 886.0,276.2 888.2,277.3 890.2,278.3 891.6,279.0 892.8,279.7 894.0,280.3 895.1,280.9 896.2,281.5 897.4,282.1 898.7,282.8 900.0,283.5 902.0,284.6 904.2,285.8 906.5,287.0 908.9,288.3 911.3,289.6 913.7,290.9 916.1,292.2 918.4,293.5 920.7,294.8 923.0,296.1 925.3,297.5 927.5,298.9 929.8,300.2 932.1,301.5 934.4,302.8 936.7,304.0 939.0,305.1 941.3,306.2 943.6,307.2 945.9,308.2 948.2,309.2 950.5,310.2 952.8,311.2 955.1,312.2 957.4,313.2 959.7,314.2 962.0,315.2 964.2,316.1 966.5,317.1 968.8,318.1 971.1,319.0 973.4,320.0 975.7,321.0 978.0,322.0 980.3,322.9 982.6,323.9 984.9,324.9 987.2,325.9 989.5,326.8 991.8,327.8 994.1,328.7 996.4,329.7 998.6,330.6 1000.9,331.5 1003.2,332.5 1005.5,333.4 1007.8,334.4 1010.2,335.4 1013.0,336.6 1015.9,337.8 1018.9,339.1 1021.8,340.4 1024.8,341.7 1027.8,343.0 1030.6,344.4 1033.4,345.7 1035.8,346.9 1038.2,348.2 1040.4,349.5 1042.7,350.8 1044.9,352.0 1047.2,353.3 1049.4,354.6 1051.7,355.8 1054.0,357.0 1056.3,358.2 1058.6,359.3 1060.9,360.5 1063.2,361.6 1065.5,362.8 1067.8,363.9 1070.1,365.0 1072.4,366.1 1074.7,367.1 1077.0,368.1 1079.2,369.2 1081.5,370.2 1083.8,371.2 1086.1,372.2 1088.4,373.3 1090.7,374.4 1093.0,375.5 1095.3,376.7 1097.6,377.8 1099.9,379.0 1102.2,380.1 1104.5,381.3 1106.8,382.4 1109.1,383.5 1111.4,384.7 1113.8,385.8 1116.1,386.9 1118.4,388.1 1120.7,389.2 1123.0,390.4 1125.2,391.5 1127.3,392.6 1129.4,393.7 1131.4,394.8 1133.4,395.9 1135.4,397.0 1137.5,398.1 1139.5,399.2 1141.5,400.3" fill="none" stroke="#2a479f" stroke-width="3.5" stroke-linejoin="round" stroke-linecap="butt"/>
<g fill="#2a479f">
<polygon points="676.3,209.8 670.8,213.0 670.8,219.4 676.3,222.6 681.9,219.4 681.9,213.0"/>
<polygon points="686.4,188.4 680.8,191.6 680.8,198.0 686.4,201.2 691.9,198.0 691.9,191.6"/>
<polygon points="707.3,210.8 701.8,214.0 701.8,220.4 707.3,223.6 712.8,220.4 712.8,214.0"/>
<polygon points="718.1,283.6 712.6,286.8 712.6,293.2 718.1,296.4 723.6,293.2 723.6,286.8"/>
<polygon points="730.3,330.1 724.8,333.3 724.8,339.7 730.3,342.9 735.8,339.7 735.8,333.3"/>
<polygon points="742.2,314.1 736.7,317.3 736.7,323.7 742.2,326.9 747.7,323.7 747.7,317.3"/>
<polygon points="754.4,224.4 748.9,227.6 748.9,234.0 754.4,237.2 759.9,234.0 759.9,227.6"/>
<polygon points="767.4,228.9 761.9,232.1 761.9,238.5 767.4,241.7 772.9,238.5 772.9,232.1"/>
<polygon points="781.2,237.4 775.7,240.6 775.7,247.0 781.2,250.2 786.7,247.0 786.7,240.6"/>
<polygon points="809.5,234.2 804.0,237.4 804.0,243.8 809.5,247.0 815.0,243.8 815.0,237.4"/>
<polygon points="824.9,242.2 819.4,245.4 819.4,251.8 824.9,255.0 830.4,251.8 830.4,245.4"/>
<polygon points="841.0,250.7 835.5,253.9 835.5,260.3 841.0,263.5 846.5,260.3 846.5,253.9"/>
<polygon points="857.6,257.5 852.1,260.7 852.1,267.1 857.6,270.3 863.1,267.1 863.1,260.7"/>
<polygon points="875.1,269.1 869.6,272.3 869.6,278.7 875.1,281.9 880.6,278.7 880.6,272.3"/>
<polygon points="893.3,277.7 887.8,280.9 887.8,287.3 893.3,290.5 898.8,287.3 898.8,280.9"/>
<polygon points="912.6,290.2 907.1,293.4 907.1,299.8 912.6,303.0 918.1,299.8 918.1,293.4"/>
<polygon points="932.9,299.4 927.4,302.6 927.4,309.0 932.9,312.2 938.4,309.0 938.4,302.6"/>
<polygon points="953.9,310.1 948.4,313.3 948.4,319.7 953.9,322.9 959.4,319.7 959.4,313.3"/>
<polygon points="976.3,315.4 970.8,318.6 970.8,325.0 976.3,328.2 981.8,325.0 981.8,318.6"/>
<polygon points="999.9,325.1 994.4,328.3 994.4,334.7 999.9,337.9 1005.4,334.7 1005.4,328.3"/>
<polygon points="1024.5,334.1 1019.0,337.3 1019.0,343.7 1024.5,346.9 1030.0,343.7 1030.0,337.3"/>
<polygon points="1050.7,348.5 1045.2,351.7 1045.2,358.1 1050.7,361.3 1056.2,358.1 1056.2,351.7"/>
<polygon points="1078.6,364.1 1073.1,367.3 1073.1,373.7 1078.6,376.9 1084.1,373.7 1084.1,367.3"/>
<polygon points="1108.2,375.1 1102.7,378.3 1102.7,384.7 1108.2,387.9 1113.7,384.7 1113.7,378.3"/>
<polygon points="1138.8,391.1 1133.3,394.3 1133.3,400.7 1138.8,403.9 1144.3,400.7 1144.3,394.3"/>
</g>
</g>
<g stroke="#000" stroke-width="3.0" fill="none">
<rect x="670.5" y="1.3" width="471.0" height="446.3"/>
<line x1="722.8" y1="447.6" x2="722.8" y2="440.1"/>
<line x1="775.2" y1="447.6" x2="775.2" y2="443.7"/>
<line x1="827.5" y1="447.6" x2="827.5" y2="440.1"/>
<line x1="879.8" y1="447.6" x2="879.8" y2="443.7"/>
<line x1="932.2" y1="447.6" x2="932.2" y2="440.1"/>
<line x1="984.5" y1="447.6" x2="984.5" y2="443.7"/>
<line x1="1036.8" y1="447.6" x2="1036.8" y2="440.1"/>
<line x1="1089.2" y1="447.6" x2="1089.2" y2="443.7"/>
<line x1="670.5" y1="391.9" x2="677.9" y2="391.9"/>
<line x1="670.5" y1="336.2" x2="677.9" y2="336.2"/>
<line x1="670.5" y1="280.5" x2="677.9" y2="280.5"/>
<line x1="670.5" y1="224.8" x2="677.9" y2="224.8"/>
<line x1="670.5" y1="169.1" x2="677.9" y2="169.1"/>
<line x1="670.5" y1="113.4" x2="677.9" y2="113.4"/>
<line x1="670.5" y1="57.7" x2="677.9" y2="57.7"/>
<line x1="1141.5" y1="417.8" x2="1134.1" y2="417.8"/>
<line x1="1141.5" y1="358.4" x2="1134.1" y2="358.4"/>
<line x1="1141.5" y1="298.9" x2="1134.1" y2="298.9"/>
<line x1="1141.5" y1="239.4" x2="1134.1" y2="239.4"/>
<line x1="1141.5" y1="180.0" x2="1134.1" y2="180.0"/>
<line x1="1141.5" y1="120.6" x2="1134.1" y2="120.6"/>
<line x1="1141.5" y1="61.1" x2="1134.1" y2="61.1"/>
</g>
<g clip-path="url(#cc)">
<path d="M1277.3,405.0 1277.6,402.8 1277.8,400.5 1278.1,398.3 1278.4,396.1 1278.6,393.9 1278.9,391.6 1279.2,389.3 1279.4,387.0 1279.7,384.3 1279.9,381.6 1280.1,378.8 1280.3,376.0 1280.6,373.2 1280.8,370.4 1281.0,367.7 1281.3,365.0 1281.6,362.6 1281.8,360.2 1282.1,357.8 1282.4,355.4 1282.6,353.1 1282.9,350.7 1283.2,348.4 1283.5,346.0 1283.8,343.6 1284.1,341.2 1284.4,338.8 1284.7,336.4 1285.0,334.0 1285.3,331.6 1285.6,329.2 1285.9,326.7 1286.2,324.1 1286.6,321.4 1286.9,318.7 1287.2,316.0 1287.6,313.3 1287.9,310.6 1288.3,307.8 1288.6,305.0 1288.9,302.0 1289.3,298.9 1289.6,295.9 1290.0,292.8 1290.3,289.6 1290.6,286.4 1291.0,283.2 1291.4,280.0 1291.9,276.4 1292.4,272.7 1292.9,268.9 1293.4,265.2 1294.0,261.4 1294.5,257.6 1295.0,253.8 1295.5,250.0 1296.0,246.2 1296.4,242.5 1296.8,238.7 1297.2,234.9 1297.7,231.2 1298.0,227.4 1298.4,223.7 1298.8,220.0 1299.1,216.4 1299.5,212.7 1299.8,209.1 1300.1,205.4 1300.4,201.8 1300.7,198.4 1301.0,195.1 1301.3,192.0 1301.5,189.9 1301.7,188.0 1301.9,186.2 1302.0,184.4 1302.2,182.6 1302.4,180.8 1302.6,179.0 1302.8,177.0 1303.1,174.5 1303.4,171.8 1303.7,169.1 1304.1,166.3 1304.5,163.5 1304.8,160.7 1305.2,157.8 1305.5,155.0 1305.8,152.0 1306.2,149.0 1306.5,145.9 1306.9,142.8 1307.2,139.7 1307.5,136.6 1307.9,133.3 1308.3,130.0 1308.8,125.9 1309.3,121.6 1309.9,117.2 1310.4,112.7 1311.0,108.2 1311.6,103.9 1312.1,99.8 1312.6,96.0 1312.9,93.4 1313.3,91.0 1313.6,88.6 1313.9,86.4 1314.2,84.2 1314.5,82.1 1314.8,80.0 1315.2,78.0 1315.5,76.4 1315.8,74.8 1316.2,73.3 1316.5,71.8 1316.9,70.4 1317.2,69.0 1317.6,67.7 1318.0,66.5 1318.3,65.6 1318.6,64.7 1318.9,63.8 1319.2,62.9 1319.5,62.2 1319.9,61.6 1320.2,61.2 1320.5,61.0 1320.8,61.1 1321.1,61.4 1321.4,61.8 1321.7,62.3 1322.0,62.9 1322.3,63.6 1322.5,64.3 1322.8,65.0 1323.2,66.2 1323.6,67.6 1324.0,69.1 1324.3,70.7 1324.6,72.3 1324.9,74.0 1325.2,75.8 1325.5,77.5 1325.8,79.5 1326.1,81.6 1326.4,83.8 1326.6,86.0 1326.9,88.2 1327.1,90.5 1327.3,92.8 1327.6,95.0 1327.9,97.3 1328.2,99.7 1328.5,102.0 1328.8,104.4 1329.1,106.8 1329.4,109.3 1329.7,111.7 1330.0,114.3 1330.3,117.4 1330.6,120.5 1330.8,123.8 1331.1,127.1 1331.3,130.4 1331.5,133.7 1331.8,136.9 1332.0,140.0 1332.2,142.6 1332.4,145.1 1332.6,147.6 1332.8,150.0 1332.9,152.5 1333.1,154.9 1333.3,157.4 1333.5,160.0 1333.7,162.9 1333.9,165.9 1334.2,168.9 1334.4,171.9 1334.6,175.0 1334.9,178.0 1335.1,181.1 1335.4,184.2 1335.7,187.4 1336.0,190.7 1336.4,194.0 1336.8,197.3 1337.1,200.5 1337.5,203.8 1337.9,206.9 1338.2,210.0 1338.5,212.6 1338.8,215.2 1339.1,217.8 1339.3,220.3 1339.6,222.7 1339.9,225.2 1340.2,227.6 1340.5,230.0 1340.8,232.1 1341.1,234.2 1341.3,236.3 1341.6,238.3 1341.9,240.4 1342.2,242.4 1342.5,244.5 1342.8,246.7 1343.1,249.2 1343.4,251.8 1343.7,254.4 1344.1,257.1 1344.4,259.8 1344.7,262.3 1345.1,264.8 1345.5,267.0 1345.8,268.7 1346.1,270.5 1346.5,272.3 1346.8,274.1 1347.2,275.6 1347.5,276.8 1347.9,277.7 1348.3,278.0 1348.6,277.9 1349.0,277.4 1349.3,276.7 1349.6,275.9 1350.0,274.9 1350.3,273.9 1350.7,272.9 1351.0,272.0 1351.4,270.9 1351.8,269.7 1352.1,268.5 1352.5,267.2 1352.8,265.8 1353.1,264.4 1353.5,263.0 1353.8,261.4 1354.3,258.8 1354.8,255.9 1355.3,252.7 1355.8,249.5 1356.3,246.2 1356.7,243.0 1357.1,240.1 1357.5,237.5 1357.7,236.0 1357.9,234.7 1358.1,233.5 1358.2,232.3 1358.4,231.1 1358.5,229.9 1358.6,228.5 1358.8,227.0 1359.1,224.2 1359.3,221.1 1359.6,217.8 1359.8,214.3 1360.0,210.7 1360.3,207.1 1360.5,203.5 1360.8,200.0 1361.1,196.5 1361.3,192.9 1361.6,189.2 1361.8,185.6 1362.1,182.0 1362.4,178.5 1362.7,175.2 1363.0,172.0 1363.3,169.6 1363.5,167.3 1363.8,165.1 1364.1,163.0 1364.4,160.9 1364.8,158.8 1365.1,156.9 1365.5,155.0 1365.8,153.6 1366.1,152.2 1366.5,150.8 1366.8,149.5 1367.2,148.3 1367.6,147.1 1368.0,145.9 1368.5,144.7 1368.9,143.7 1369.4,142.7 1369.9,141.7 1370.4,140.8 1370.9,139.9 1371.4,139.0 1372.0,138.2 1372.5,137.5 1372.9,137.0 1373.3,136.6 1373.6,136.2 1374.0,135.9 1374.4,135.5 1374.8,135.2 1375.3,134.9 1375.8,134.5 1376.6,134.0 1377.5,133.5 1378.5,133.0 1379.5,132.5 1380.5,132.0 1381.5,131.5 1382.4,131.0 1383.2,130.5 1383.7,130.1 1384.2,129.8 1384.6,129.4 1385.0,129.1 1385.4,128.7 1385.9,128.3 1386.4,127.9 1387.0,127.5 1388.5,126.5 1390.4,125.3 1392.5,124.0 1394.7,122.7 1397.1,121.3 1399.4,119.9 1401.8,118.6 1404.0,117.3 1406.1,116.1 1408.2,115.0 1410.4,113.8 1412.5,112.7 1414.6,111.6 1416.7,110.5 1418.9,109.3 1421.0,108.2 1423.1,107.0 1425.2,105.9 1427.4,104.7 1429.5,103.5 1431.6,102.3 1433.7,101.1 1435.9,100.0 1438.0,98.9 1440.1,97.8 1442.2,96.8 1444.3,95.8 1446.5,94.8 1448.6,93.8 1450.7,92.8 1452.9,91.9 1455.0,91.0 1457.1,90.1 1459.2,89.3 1461.3,88.5 1463.5,87.7 1465.6,87.0 1467.7,86.2 1469.9,85.6 1472.0,84.9 1474.1,84.3 1476.3,83.7 1478.5,83.1 1480.7,82.6 1482.9,82.1 1485.0,81.6 1487.0,81.2 1489.0,80.8 1490.5,80.5 1491.9,80.3 1493.2,80.1 1494.6,79.9 1495.9,79.7 1497.3,79.5 1498.7,79.4 1500.2,79.3 1502.3,79.2 1504.6,79.1 1507.0,79.1 1509.4,79.1 1511.8,79.1 1514.2,79.2 1516.4,79.2 1518.5,79.3 1519.9,79.3 1521.1,79.4 1522.3,79.4 1523.5,79.4 1524.6,79.5 1525.8,79.5 1527.0,79.6 1528.4,79.8 1530.4,80.1 1532.6,80.4 1534.9,80.9 1537.2,81.3 1539.6,81.8 1542.0,82.4 1544.4,82.9 1546.7,83.5 1549.0,84.1 1551.3,84.7 1553.6,85.4 1555.9,86.0 1558.2,86.7 1560.5,87.5 1562.8,88.2 1565.1,89.0 1567.4,89.8 1569.7,90.7 1572.0,91.6 1574.3,92.5 1576.6,93.4 1578.8,94.4 1581.1,95.3 1583.4,96.3 1585.7,97.3 1588.0,98.3 1590.3,99.3 1592.6,100.4 1594.9,101.4 1597.2,102.5 1599.5,103.5 1601.8,104.6 1604.1,105.7 1606.5,106.8 1609.0,108.0 1611.4,109.2 1613.7,110.3 1616.0,111.4 1618.2,112.5 1620.2,113.5 1621.6,114.2 1622.8,114.8 1624.0,115.5 1625.1,116.1 1626.2,116.7 1627.4,117.3 1628.7,117.9 1630.0,118.5 1631.9,119.3 1633.9,120.1 1636.0,121.0 1638.2,121.8 1640.4,122.6 1642.6,123.4 1644.8,124.2 1647.0,125.0 1649.1,125.8 1651.3,126.6 1653.4,127.3 1655.5,128.1 1657.7,128.9 1659.8,129.6 1662.0,130.3 1664.1,131.0 1666.2,131.6 1668.3,132.3 1670.5,132.9 1672.6,133.4 1674.7,134.0 1676.8,134.5 1679.0,135.0 1681.1,135.5 1683.2,136.0 1685.3,136.4 1687.5,136.9 1689.6,137.3 1691.7,137.7 1693.8,138.0 1696.0,138.3 1698.1,138.5 1700.2,138.7 1702.4,138.8 1704.5,138.8 1706.6,138.8 1708.8,138.8 1710.9,138.8 1713.1,138.7 1715.2,138.6 1717.3,138.5 1719.5,138.3 1721.6,138.1 1723.8,137.9 1725.9,137.6 1728.1,137.3 1730.1,137.1 1732.2,136.8 1734.0,136.5 1735.9,136.3 1737.7,136.0 1739.4,135.7 1741.2,135.4 1743.0,135.2 1744.7,134.9 1746.5,134.6" fill="none" stroke="#e60012" stroke-width="3.5" stroke-linejoin="round" stroke-linecap="butt"/>
<g fill="#e60012">
<polygon points="1281.4,361.1 1275.9,364.3 1275.9,370.7 1281.4,373.9 1287.0,370.7 1287.0,364.3"/>
<polygon points="1291.5,277.0 1285.9,280.2 1285.9,286.6 1291.5,289.8 1297.0,286.6 1297.0,280.2"/>
<polygon points="1301.9,171.0 1296.4,174.2 1296.4,180.6 1301.9,183.8 1307.5,180.6 1307.5,174.2"/>
<polygon points="1312.4,85.5 1306.9,88.7 1306.9,95.1 1312.4,98.3 1317.9,95.1 1317.9,88.7"/>
<polygon points="1323.2,75.9 1317.7,79.1 1317.7,85.5 1323.2,88.7 1328.7,85.5 1328.7,79.1"/>
<polygon points="1335.4,177.8 1329.9,181.0 1329.9,187.4 1335.4,190.6 1340.9,187.4 1340.9,181.0"/>
<polygon points="1347.3,277.0 1341.8,280.2 1341.8,286.6 1347.3,289.8 1352.8,286.6 1352.8,280.2"/>
<polygon points="1359.5,219.0 1354.0,222.2 1354.0,228.6 1359.5,231.8 1365.0,228.6 1365.0,222.2"/>
<polygon points="1372.5,127.5 1367.0,130.7 1367.0,137.1 1372.5,140.3 1378.0,137.1 1378.0,130.7"/>
<polygon points="1386.3,140.8 1380.8,144.0 1380.8,150.4 1386.3,153.6 1391.8,150.4 1391.8,144.0"/>
<polygon points="1400.2,126.6 1394.7,129.8 1394.7,136.2 1400.2,139.4 1405.7,136.2 1405.7,129.8"/>
<polygon points="1414.6,111.9 1409.1,115.1 1409.1,121.5 1414.6,124.7 1420.1,121.5 1420.1,115.1"/>
<polygon points="1430.0,97.8 1424.5,101.0 1424.5,107.4 1430.0,110.6 1435.5,107.4 1435.5,101.0"/>
<polygon points="1446.1,85.0 1440.6,88.2 1440.6,94.6 1446.1,97.8 1451.6,94.6 1451.6,88.2"/>
<polygon points="1462.7,76.1 1457.2,79.3 1457.2,85.7 1462.7,88.9 1468.2,85.7 1468.2,79.3"/>
<polygon points="1480.2,70.3 1474.7,73.5 1474.7,79.9 1480.2,83.1 1485.7,79.9 1485.7,73.5"/>
<polygon points="1498.4,71.0 1492.9,74.2 1492.9,80.6 1498.4,83.8 1503.9,80.6 1503.9,74.2"/>
<polygon points="1517.7,74.1 1512.2,77.3 1512.2,83.7 1517.7,86.9 1523.2,83.7 1523.2,77.3"/>
<polygon points="1538.0,77.6 1532.5,80.8 1532.5,87.2 1538.0,90.4 1543.5,87.2 1543.5,80.8"/>
<polygon points="1559.0,83.5 1553.5,86.7 1553.5,93.1 1559.0,96.3 1564.5,93.1 1564.5,86.7"/>
<polygon points="1581.4,89.9 1575.9,93.1 1575.9,99.5 1581.4,102.7 1586.9,99.5 1586.9,93.1"/>
<polygon points="1605.0,95.4 1599.5,98.6 1599.5,105.0 1605.0,108.2 1610.5,105.0 1610.5,98.6"/>
<polygon points="1629.6,103.1 1624.1,106.3 1624.1,112.7 1629.6,115.9 1635.1,112.7 1635.1,106.3"/>
<polygon points="1655.8,109.9 1650.3,113.1 1650.3,119.5 1655.8,122.7 1661.3,119.5 1661.3,113.1"/>
<polygon points="1683.7,119.9 1678.2,123.1 1678.2,129.5 1683.7,132.7 1689.2,129.5 1689.2,123.1"/>
<polygon points="1713.3,131.3 1707.8,134.5 1707.8,140.9 1713.3,144.1 1718.8,140.9 1718.8,134.5"/>
<polygon points="1743.9,138.6 1738.4,141.8 1738.4,148.2 1743.9,151.4 1749.4,148.2 1749.4,141.8"/>
</g>
<path d="M1277.3,152.0 1277.7,148.6 1278.0,145.0 1278.4,141.5 1278.8,137.9 1279.1,134.5 1279.5,131.1 1279.9,128.0 1280.3,125.0 1280.6,123.0 1280.9,121.1 1281.2,119.3 1281.5,117.6 1281.8,115.9 1282.1,114.3 1282.4,112.6 1282.8,111.0 1283.1,109.5 1283.5,108.0 1283.9,106.5 1284.3,105.1 1284.7,103.6 1285.1,102.3 1285.5,100.9 1285.9,99.6 1286.2,98.5 1286.5,97.5 1286.8,96.5 1287.1,95.4 1287.4,94.5 1287.7,93.6 1288.1,92.7 1288.5,92.0 1288.8,91.5 1289.1,91.0 1289.5,90.5 1289.8,90.1 1290.2,89.7 1290.6,89.4 1291.0,89.1 1291.4,89.0 1291.9,89.0 1292.3,89.0 1292.9,89.1 1293.4,89.3 1293.9,89.6 1294.5,89.9 1295.0,90.2 1295.5,90.5 1296.2,91.0 1296.8,91.6 1297.5,92.2 1298.1,92.9 1298.8,93.7 1299.4,94.4 1300.0,95.2 1300.5,96.0 1301.0,96.8 1301.5,97.6 1302.0,98.4 1302.4,99.3 1302.8,100.2 1303.2,101.1 1303.6,102.0 1304.0,103.0 1304.4,104.3 1304.9,105.6 1305.3,107.0 1305.6,108.5 1306.0,109.9 1306.3,111.4 1306.7,112.9 1307.0,114.3 1307.3,115.6 1307.6,117.0 1307.9,118.3 1308.1,119.6 1308.4,120.9 1308.7,122.3 1308.9,123.6 1309.2,125.0 1309.5,126.6 1309.8,128.2 1310.1,129.8 1310.4,131.5 1310.7,133.1 1311.0,134.8 1311.3,136.4 1311.6,138.0 1311.9,139.5 1312.1,140.9 1312.3,142.3 1312.6,143.6 1312.8,145.1 1313.0,146.6 1313.3,148.2 1313.5,150.0 1313.9,153.5 1314.4,157.5 1314.8,161.8 1315.2,166.3 1315.7,171.1 1316.1,175.8 1316.6,180.5 1317.0,185.1 1317.5,189.6 1317.9,194.2 1318.4,198.8 1318.8,203.4 1319.3,208.0 1319.8,212.6 1320.2,217.2 1320.6,221.8 1321.0,226.6 1321.4,231.4 1321.7,236.4 1322.0,241.3 1322.4,246.1 1322.7,250.8 1323.1,255.3 1323.5,259.6 1323.8,262.7 1324.2,265.8 1324.6,268.7 1325.0,271.5 1325.4,274.3 1325.8,277.0 1326.2,279.5 1326.5,282.0 1326.7,283.8 1327.0,285.4 1327.2,287.0 1327.4,288.5 1327.6,290.0 1327.9,291.6 1328.1,293.2 1328.3,295.0 1328.6,297.6 1328.9,300.4 1329.2,303.4 1329.5,306.4 1329.8,309.5 1330.1,312.4 1330.4,315.1 1330.8,317.5 1331.0,319.0 1331.3,320.4 1331.5,321.8 1331.8,323.1 1332.0,324.3 1332.3,325.5 1332.6,326.5 1333.0,327.5 1333.3,328.1 1333.5,328.7 1333.8,329.3 1334.2,329.8 1334.5,330.3 1334.8,330.7 1335.1,330.9 1335.4,331.0 1335.7,330.9 1336.0,330.7 1336.3,330.3 1336.6,329.8 1337.0,329.3 1337.3,328.7 1337.5,328.1 1337.8,327.5 1338.2,326.5 1338.5,325.4 1338.8,324.2 1339.1,322.9 1339.3,321.6 1339.6,320.2 1339.8,318.8 1340.0,317.5 1340.2,316.0 1340.4,314.6 1340.6,313.2 1340.8,311.7 1340.9,310.2 1341.1,308.5 1341.3,306.8 1341.5,305.0 1341.9,301.8 1342.4,298.2 1342.9,294.4 1343.4,290.4 1344.0,286.3 1344.5,282.2 1345.0,278.2 1345.5,274.3 1345.9,270.8 1346.3,267.4 1346.6,264.0 1346.9,260.7 1347.3,257.3 1347.6,253.8 1347.9,250.3 1348.3,246.7 1348.7,242.3 1349.2,237.6 1349.7,232.8 1350.2,228.0 1350.7,223.2 1351.2,218.5 1351.6,214.1 1352.0,210.0 1352.3,207.2 1352.5,204.7 1352.7,202.3 1352.9,199.9 1353.1,197.6 1353.3,195.2 1353.5,192.7 1353.8,190.0 1354.2,186.2 1354.6,182.2 1355.1,177.9 1355.6,173.5 1356.0,169.2 1356.5,165.0 1357.0,161.1 1357.5,157.5 1357.8,155.0 1358.1,152.4 1358.4,149.7 1358.7,147.2 1359.0,145.0 1359.3,143.2 1359.7,142.0 1360.1,141.5 1360.4,141.6 1360.7,141.9 1361.0,142.4 1361.3,143.0 1361.6,143.7 1361.9,144.5 1362.2,145.2 1362.5,146.0 1362.9,147.3 1363.2,148.7 1363.5,150.2 1363.8,151.8 1364.0,153.6 1364.3,155.3 1364.6,157.1 1365.0,158.8 1365.5,160.9 1366.1,163.1 1366.7,165.4 1367.3,167.7 1368.0,170.0 1368.7,172.3 1369.3,174.6 1370.0,176.7 1370.6,178.5 1371.1,180.3 1371.6,182.1 1372.2,183.8 1372.7,185.5 1373.4,187.2 1374.1,188.9 1374.9,190.6 1375.9,192.4 1377.0,194.3 1378.2,196.1 1379.4,197.9 1380.7,199.7 1382.1,201.4 1383.4,203.0 1384.8,204.5 1386.0,205.7 1387.2,206.8 1388.4,207.9 1389.7,208.9 1391.0,209.8 1392.2,210.7 1393.5,211.6 1394.8,212.5 1396.0,213.3 1397.2,214.0 1398.5,214.7 1399.7,215.3 1401.0,216.0 1402.2,216.6 1403.5,217.3 1404.7,218.0 1406.0,218.8 1407.3,219.6 1408.5,220.4 1409.8,221.2 1411.1,222.1 1412.4,222.9 1413.7,223.7 1415.0,224.5 1416.4,225.3 1417.8,226.0 1419.2,226.6 1420.7,227.3 1422.1,228.0 1423.6,228.7 1425.1,229.6 1426.7,230.5 1428.8,231.9 1431.1,233.5 1433.4,235.2 1435.7,237.1 1438.1,239.0 1440.5,240.9 1442.8,242.8 1445.1,244.7 1447.4,246.6 1449.7,248.5 1452.0,250.5 1454.3,252.5 1456.6,254.5 1458.8,256.5 1461.1,258.5 1463.4,260.5 1465.7,262.5 1468.0,264.6 1470.4,266.7 1472.7,268.7 1475.0,270.8 1477.3,272.9 1479.6,275.0 1481.8,277.0 1483.9,278.9 1486.0,280.9 1488.0,282.8 1490.1,284.8 1492.1,286.7 1494.2,288.6 1496.3,290.5 1498.4,292.4 1500.6,294.3 1502.9,296.2 1505.2,298.0 1507.5,299.9 1509.8,301.7 1512.1,303.6 1514.4,305.4 1516.7,307.3 1519.0,309.2 1521.3,311.2 1523.6,313.2 1525.9,315.2 1528.2,317.2 1530.5,319.2 1532.8,321.1 1535.1,323.0 1537.4,324.7 1539.6,326.4 1541.9,328.1 1544.2,329.7 1546.5,331.3 1548.8,332.9 1551.1,334.5 1553.4,336.1 1555.7,337.7 1558.0,339.3 1560.3,340.8 1562.6,342.4 1564.9,343.9 1567.2,345.5 1569.5,347.0 1571.8,348.5 1574.1,350.0 1576.4,351.4 1578.8,352.9 1581.1,354.4 1583.5,355.8 1585.8,357.2 1588.0,358.5 1590.2,359.8 1592.0,360.9 1593.8,361.9 1595.5,362.9 1597.2,363.9 1598.9,364.8 1600.6,365.8 1602.3,366.7 1604.0,367.6 1605.6,368.4 1607.2,369.3 1608.7,370.1 1610.3,370.9 1611.8,371.7 1613.4,372.4 1615.0,373.2 1616.7,374.0 1618.7,374.9 1620.7,375.7 1622.7,376.6 1624.8,377.5 1627.0,378.3 1629.1,379.2 1631.2,380.0 1633.3,380.8 1635.4,381.6 1637.5,382.4 1639.5,383.1 1641.6,383.9 1643.7,384.6 1645.8,385.3 1647.9,386.0 1650.0,386.7 1652.1,387.4 1654.2,388.0 1656.3,388.7 1658.3,389.3 1660.4,389.9 1662.5,390.5 1664.6,391.1 1666.7,391.7 1668.8,392.3 1670.8,392.8 1672.9,393.3 1675.0,393.8 1677.1,394.3 1679.1,394.8 1681.2,395.3 1683.3,395.8 1685.4,396.3 1687.5,396.8 1689.6,397.4 1691.6,397.9 1693.7,398.4 1695.8,398.9 1697.9,399.5 1700.0,400.0 1702.1,400.5 1704.2,401.0 1706.3,401.5 1708.4,402.0 1710.5,402.5 1712.5,403.1 1714.6,403.6 1716.7,404.2 1718.8,404.8 1720.9,405.5 1723.0,406.2 1725.1,407.0 1727.2,407.7 1729.3,408.4 1731.3,409.1 1733.3,409.8 1735.0,410.4 1736.7,411.0 1738.4,411.5 1740.0,412.1 1741.6,412.6 1743.2,413.2 1744.9,413.7 1746.5,414.3" fill="none" stroke="#2a479f" stroke-width="3.5" stroke-linejoin="round" stroke-linecap="butt"/>
<g fill="#2a479f">
<polygon points="1281.4,129.0 1275.9,132.2 1275.9,138.6 1281.4,141.8 1287.0,138.6 1287.0,132.2"/>
<polygon points="1291.5,85.6 1285.9,88.8 1285.9,95.2 1291.5,98.4 1297.0,95.2 1297.0,88.8"/>
<polygon points="1301.9,96.2 1296.4,99.4 1296.4,105.8 1301.9,109.0 1307.5,105.8 1307.5,99.4"/>
<polygon points="1312.4,139.0 1306.9,142.2 1306.9,148.6 1312.4,151.8 1317.9,148.6 1317.9,142.2"/>
<polygon points="1323.2,254.0 1317.7,257.2 1317.7,263.6 1323.2,266.8 1328.7,263.6 1328.7,257.2"/>
<polygon points="1335.4,327.3 1329.9,330.5 1329.9,336.9 1335.4,340.1 1340.9,336.9 1340.9,330.5"/>
<polygon points="1347.3,251.1 1341.8,254.3 1341.8,260.7 1347.3,263.9 1352.8,260.7 1352.8,254.3"/>
<polygon points="1359.5,137.4 1354.0,140.6 1354.0,147.0 1359.5,150.2 1365.0,147.0 1365.0,140.6"/>
<polygon points="1372.5,176.1 1367.0,179.3 1367.0,185.7 1372.5,188.9 1378.0,185.7 1378.0,179.3"/>
<polygon points="1400.2,208.6 1394.7,211.8 1394.7,218.2 1400.2,221.4 1405.7,218.2 1405.7,211.8"/>
<polygon points="1414.6,217.1 1409.1,220.3 1409.1,226.7 1414.6,229.9 1420.1,226.7 1420.1,220.3"/>
<polygon points="1430.0,227.7 1424.5,230.9 1424.5,237.3 1430.0,240.5 1435.5,237.3 1435.5,230.9"/>
<polygon points="1446.1,240.9 1440.6,244.1 1440.6,250.5 1446.1,253.7 1451.6,250.5 1451.6,244.1"/>
<polygon points="1462.7,258.9 1457.2,262.1 1457.2,268.5 1462.7,271.7 1468.2,268.5 1468.2,262.1"/>
<polygon points="1480.2,276.9 1474.7,280.1 1474.7,286.5 1480.2,289.7 1485.7,286.5 1485.7,280.1"/>
<polygon points="1498.4,295.7 1492.9,298.9 1492.9,305.3 1498.4,308.5 1503.9,305.3 1503.9,298.9"/>
<polygon points="1517.7,310.4 1512.2,313.6 1512.2,320.0 1517.7,323.2 1523.2,320.0 1523.2,313.6"/>
<polygon points="1538.0,324.7 1532.5,327.9 1532.5,334.3 1538.0,337.5 1543.5,334.3 1543.5,327.9"/>
<polygon points="1559.0,336.1 1553.5,339.3 1553.5,345.7 1559.0,348.9 1564.5,345.7 1564.5,339.3"/>
<polygon points="1581.4,348.4 1575.9,351.6 1575.9,358.0 1581.4,361.2 1586.9,358.0 1586.9,351.6"/>
<polygon points="1605.0,358.1 1599.5,361.3 1599.5,367.7 1605.0,370.9 1610.5,367.7 1610.5,361.3"/>
<polygon points="1629.6,370.6 1624.1,373.8 1624.1,380.2 1629.6,383.4 1635.1,380.2 1635.1,373.8"/>
<polygon points="1655.8,377.4 1650.3,380.6 1650.3,387.0 1655.8,390.2 1661.3,387.0 1661.3,380.6"/>
<polygon points="1683.7,388.6 1678.2,391.8 1678.2,398.2 1683.7,401.4 1689.2,398.2 1689.2,391.8"/>
<polygon points="1713.3,397.4 1707.8,400.6 1707.8,407.0 1713.3,410.2 1718.8,407.0 1718.8,400.6"/>
<polygon points="1743.9,405.4 1738.4,408.6 1738.4,415.0 1743.9,418.2 1749.4,415.0 1749.4,408.6"/>
</g>
</g>
<g stroke="#000" stroke-width="3.0" fill="none">
<rect x="1275.6" y="1.3" width="470.9" height="446.3"/>
<line x1="1327.9" y1="447.6" x2="1327.9" y2="440.1"/>
<line x1="1380.2" y1="447.6" x2="1380.2" y2="443.7"/>
<line x1="1432.6" y1="447.6" x2="1432.6" y2="440.1"/>
<line x1="1484.9" y1="447.6" x2="1484.9" y2="443.7"/>
<line x1="1537.2" y1="447.6" x2="1537.2" y2="440.1"/>
<line x1="1589.5" y1="447.6" x2="1589.5" y2="443.7"/>
<line x1="1641.9" y1="447.6" x2="1641.9" y2="440.1"/>
<line x1="1694.2" y1="447.6" x2="1694.2" y2="443.7"/>
<line x1="1275.6" y1="373.2" x2="1283.0" y2="373.2"/>
<line x1="1275.6" y1="298.8" x2="1283.0" y2="298.8"/>
<line x1="1275.6" y1="224.4" x2="1283.0" y2="224.4"/>
<line x1="1275.6" y1="150.0" x2="1283.0" y2="150.0"/>
<line x1="1275.6" y1="75.6" x2="1283.0" y2="75.6"/>
<line x1="1746.5" y1="403.1" x2="1739.1" y2="403.1"/>
<line x1="1746.5" y1="313.9" x2="1739.1" y2="313.9"/>
<line x1="1746.5" y1="224.7" x2="1739.1" y2="224.7"/>
<line x1="1746.5" y1="135.5" x2="1739.1" y2="135.5"/>
<line x1="1746.5" y1="46.3" x2="1739.1" y2="46.3"/>
</g>
<text transform="matrix(0.3614 0 0 0.3806 77.32 43.20)" font-size="100" stroke-width="1.08">(</text>
<text transform="matrix(0.4480 0 0 0.3262 90.56 42.77)" font-size="100" stroke-width="1.05">a</text>
<text transform="matrix(0.3491 0 0 0.3804 110.50 43.21)" font-size="100" stroke-width="1.10">)</text>
<text transform="matrix(0.3986 0 0 0.3484 87.98 480.73)" font-size="100" stroke-width="1.07">3.0</text>
<text transform="matrix(0.3963 0 0 0.3479 192.91 480.56)" font-size="100" stroke-width="1.08">3.5</text>
<text transform="matrix(0.3889 0 0 0.3495 298.42 480.86)" font-size="100" stroke-width="1.08">4.0</text>
<text transform="matrix(0.3879 0 0 0.3503 403.15 480.74)" font-size="100" stroke-width="1.09">4.5</text>
<text transform="matrix(0.3997 0 0 0.3480 506.42 480.44)" font-size="100" stroke-width="1.07">5.0</text>
<text transform="matrix(0.4051 0 0 0.3414 211.61 519.52)" font-size="100" stroke-width="1.08">Energy</text>
<text transform="matrix(0.3945 0 0 0.3819 343.27 520.95)" font-size="100" stroke-width="1.03">(eV)</text>
<text transform="translate(27.38,263.19) rotate(-90) scale(0.2640,0.3025)" font-size="100" font-style="italic" style="font-family:'Noto Serif CJK SC',serif;stroke:#000;stroke-width:2.12px">Ψ</text>
<text transform="translate(28.62,228.63) rotate(-90) scale(0.3484,0.3867)" font-size="100" stroke-width="1.09">(</text>
<text transform="translate(29.13,203.44) rotate(-90) scale(0.3379,0.3833)" font-size="100" stroke-width="1.11">)</text>
<text transform="translate(22.12,215.38) rotate(-90) scale(0.2391,0.2551)" font-size="100" stroke-width="1.62">°</text>
<text transform="translate(574.26,260.61) rotate(-90) scale(0.4370,0.3634)" font-size="100" stroke-width="1.00" font-style="italic">Δ</text>
<text transform="translate(574.81,224.93) rotate(-90) scale(0.3606,0.3906)" font-size="100" stroke-width="1.07">(</text>
<text transform="translate(574.73,200.13) rotate(-90) scale(0.3475,0.3873)" font-size="100" stroke-width="1.09">)</text>
<text transform="translate(567.53,211.38) rotate(-90) scale(0.2390,0.2562)" font-size="100" stroke-width="1.62">°</text>
<text transform="matrix(0.4019 0 0 0.3854 688.89 41.82)" font-size="100" stroke-width="1.02">(</text>
<text transform="matrix(0.4207 0 0 0.3449 703.65 41.79)" font-size="100" stroke-width="1.05">b</text>
<text transform="matrix(0.3914 0 0 0.3837 723.93 41.51)" font-size="100" stroke-width="1.03">)</text>
<text transform="matrix(0.3986 0 0 0.3484 700.98 480.73)" font-size="100" stroke-width="1.07">3.0</text>
<text transform="matrix(0.3963 0 0 0.3479 805.91 480.56)" font-size="100" stroke-width="1.08">3.5</text>
<text transform="matrix(0.3889 0 0 0.3493 911.41 480.87)" font-size="100" stroke-width="1.09">4.0</text>
<text transform="matrix(0.3879 0 0 0.3503 1016.15 480.74)" font-size="100" stroke-width="1.09">4.5</text>
<text transform="matrix(0.3997 0 0 0.3480 1119.42 480.44)" font-size="100" stroke-width="1.07">5.0</text>
<text transform="matrix(0.4053 0 0 0.3415 825.85 519.53)" font-size="100" stroke-width="1.08">Energy</text>
<text transform="matrix(0.3930 0 0 0.3785 957.85 520.80)" font-size="100" stroke-width="1.04">(eV)</text>
<text transform="translate(645.14,263.19) rotate(-90) scale(0.2640,0.3025)" font-size="100" font-style="italic" style="font-family:'Noto Serif CJK SC',serif;stroke:#000;stroke-width:2.12px">Ψ</text>
<text transform="translate(647.08,228.63) rotate(-90) scale(0.3484,0.3867)" font-size="100" stroke-width="1.09">(</text>
<text transform="translate(646.89,203.44) rotate(-90) scale(0.3379,0.3833)" font-size="100" stroke-width="1.11">)</text>
<text transform="translate(640.56,215.38) rotate(-90) scale(0.2391,0.2551)" font-size="100" stroke-width="1.62">°</text>
<text transform="translate(1180.77,260.61) rotate(-90) scale(0.4370,0.3634)" font-size="100" stroke-width="1.00" font-style="italic">Δ</text>
<text transform="translate(1181.33,224.93) rotate(-90) scale(0.3606,0.3906)" font-size="100" stroke-width="1.07">(</text>
<text transform="translate(1181.25,200.13) rotate(-90) scale(0.3475,0.3873)" font-size="100" stroke-width="1.09">)</text>
<text transform="translate(1174.75,211.38) rotate(-90) scale(0.2390,0.2562)" font-size="100" stroke-width="1.62">°</text>
<text transform="matrix(0.3826 0 0 0.3774 1292.16 45.07)" font-size="100" stroke-width="1.05">(</text>
<text transform="matrix(0.3969 0 0 0.3292 1304.82 44.49)" font-size="100" stroke-width="1.11">c</text>
<text transform="matrix(0.4007 0 0 0.3770 1322.16 45.18)" font-size="100" stroke-width="1.03">)</text>
<text transform="matrix(0.3960 0 0 0.3477 1306.17 480.73)" font-size="100" stroke-width="1.08">3.0</text>
<text transform="matrix(0.3968 0 0 0.3491 1410.92 480.48)" font-size="100" stroke-width="1.07">3.5</text>
<text transform="matrix(0.3880 0 0 0.3488 1516.56 480.79)" font-size="100" stroke-width="1.09">4.0</text>
<text transform="matrix(0.3846 0 0 0.3500 1621.39 480.72)" font-size="100" stroke-width="1.09">4.5</text>
<text transform="matrix(0.3997 0 0 0.3480 1724.42 480.44)" font-size="100" stroke-width="1.07">5.0</text>
<text transform="matrix(0.4051 0 0 0.3414 1435.61 519.52)" font-size="100" stroke-width="1.08">Energy</text>
<text transform="matrix(0.3945 0 0 0.3819 1567.27 520.95)" font-size="100" stroke-width="1.03">(eV)</text>
<text transform="translate(1246.89,263.19) rotate(-90) scale(0.2640,0.3025)" font-size="100" font-style="italic" style="font-family:'Noto Serif CJK SC',serif;stroke:#000;stroke-width:2.12px">Ψ</text>
<text transform="translate(1248.81,228.63) rotate(-90) scale(0.3484,0.3867)" font-size="100" stroke-width="1.09">(</text>
<text transform="translate(1248.63,203.44) rotate(-90) scale(0.3379,0.3833)" font-size="100" stroke-width="1.11">)</text>
<text transform="translate(1241.57,215.38) rotate(-90) scale(0.2391,0.2551)" font-size="100" stroke-width="1.62">°</text>
<text transform="translate(1785.26,260.61) rotate(-90) scale(0.4370,0.3634)" font-size="100" stroke-width="1.00" font-style="italic">Δ</text>
<text transform="translate(1785.81,224.93) rotate(-90) scale(0.3606,0.3906)" font-size="100" stroke-width="1.07">(</text>
<text transform="translate(1785.73,200.13) rotate(-90) scale(0.3475,0.3873)" font-size="100" stroke-width="1.09">)</text>
<text transform="translate(1778.53,211.38) rotate(-90) scale(0.2390,0.2562)" font-size="100" stroke-width="1.62">°</text>
</svg>
</body></html>
